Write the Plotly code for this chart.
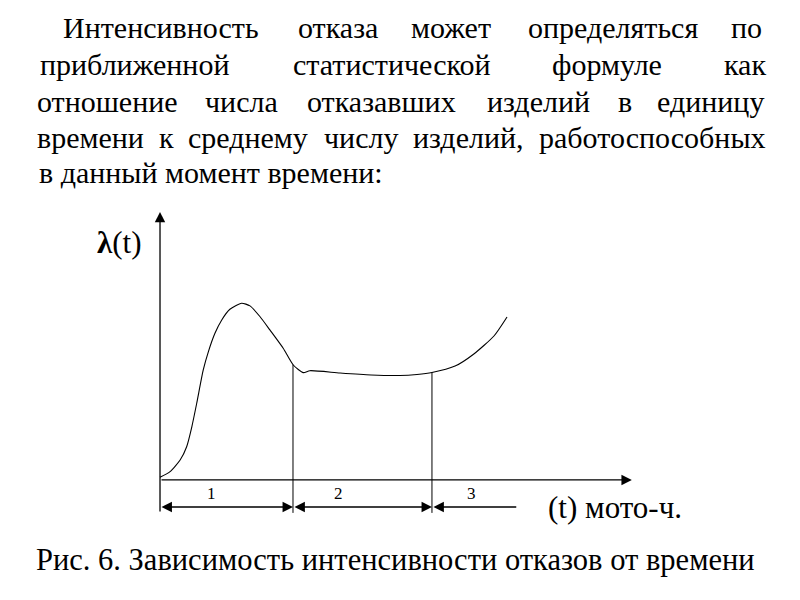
import numpy as np
import plotly.graph_objects as go

# кривая интенсивности отказов
t = [0, 3.7, 7.4, 9.8, 11.7, 13.5, 15.9, 17.8, 20.2, 22.7, 25.7, 30.0, 33.1, 36.8,
     40.4, 45.3, 49.0, 52.7, 55.1, 66.2, 77.6, 88.2, 94.5, 100.0, 108.5, 115.4,
     122.8, 127.6]
lam = [1.5, 4.7, 11.2, 18.7, 29.9, 43.1, 61.8, 72.1, 82.4, 89.9, 95.9, 99.3, 97.8,
       91.7, 84.3, 74.0, 64.6, 60.3, 61.4, 60.1, 59.0, 58.7, 59.3, 60.4, 64.0, 70.8,
       80.9, 91.6]

# границы периодов 1, 2, 3
bounds = [0, 48.9, 100.0, 131.0]
period_labels = ['1', '2', '3']
period_label_t = [19.1, 65.8, 114.7]
t_axis_end = 173.5
lam_axis_end = 150.6
dim_y = -15.2      # уровень размерной линии
tick_y = -18.5     # нижний конец засечек

text_lines = [
    ['Интенсивность', 'отказа', 'может', 'определяться', 'по'],
    ['приближенной', 'статистической', 'формуле', 'как'],
    ['отношение', 'числа', 'отказавших', 'изделий', 'в', 'единицу'],
    ['времени', 'к', 'среднему', 'числу', 'изделий,', 'работоспособных'],
]
# центры слов по горизонтали, px (выключка по ширине)
word_cx = [
    [160.5, 338, 451, 613, 746.5],
    [134, 392, 606.5, 745],
    [107, 241, 381, 538, 624.5, 710.5],
    [90.5, 166, 248, 360.5, 468, 652],
]
last_line = 'в данный момент времени:'
line_cy = [28, 64, 101, 137, 173]
caption = 'Рис. 6. Зависимость интенсивности отказов от времени'

W, H = 800, 600
ML, MR, MT, MB = 150, 160, 205, 75
SERIF = 'Liberation Serif'


def px(x):
    return (x - ML) / (W - ML - MR)


def py(y):
    return (H - MB - y) / (H - MT - MB)


def label(x, y, text, size, xanchor='center'):
    return dict(x=px(x), y=py(y), xref='paper', yref='paper', text=text, showarrow=False,
                xanchor=xanchor, yanchor='middle', font=dict(family=SERIF, size=size, color='black'))


fig = go.Figure()
fig.add_trace(go.Scatter(x=t, y=lam, mode='lines', line=dict(color='black', width=1.1, shape='spline', smoothing=0.6),
                         hoverinfo='skip'))

ann = []
# оси со стрелками
ann.append(dict(x=0, y=lam_axis_end, ax=0, ay=tick_y, xref='x', yref='y', axref='x', ayref='y',
                text='', showarrow=True, arrowhead=2, arrowsize=1.6, arrowwidth=1.3, arrowcolor='black'))
ann.append(dict(x=t_axis_end, y=0, ax=0, ay=0, xref='x', yref='y', axref='x', ayref='y',
                text='', showarrow=True, arrowhead=2, arrowsize=1.6, arrowwidth=1.3, arrowcolor='black'))

# размерные линии периодов
for i in range(3):
    ann.append(dict(x=bounds[i + 1], y=dim_y, ax=bounds[i], ay=dim_y, xref='x', yref='y', axref='x', ayref='y',
                    text='', showarrow=True, arrowhead=2, startarrowhead=2, arrowsize=1.6, startarrowsize=1.6,
                    arrowwidth=1.3, arrowcolor='black', arrowside='end+start' if i < 2 else 'start'))
    ann.append(dict(x=period_label_t[i], y=dim_y + 7.5, xref='x', yref='y',
                    text=period_labels[i], showarrow=False, xanchor='center', yanchor='middle',
                    font=dict(family=SERIF, size=17, color='black')))

shapes = []
for b in bounds[1:3]:
    top = float(np.interp(b, t, lam))
    shapes.append(dict(type='line', x0=b, x1=b, y0=tick_y, y1=top, xref='x', yref='y',
                       line=dict(color='black', width=1)))

# подписи осей
ann.append(label(119, 242, '<b>λ</b>(t)', 31))
ann.append(label(615, 507, '(t) мото-ч.', 31))

# текст абзаца
for words, xs, cy in zip(text_lines, word_cx, line_cy):
    for w, cx in zip(words, xs):
        ann.append(label(cx, cy, w, 30))
ann.append(label(37, line_cy[4], last_line, 30, xanchor='left'))
ann.append(label(395, 560, caption, 30.5))

fig.update_layout(
    width=W, height=H,
    margin=dict(l=ML, r=MR, t=MT, b=MB),
    paper_bgcolor='white', plot_bgcolor='white',
    showlegend=False,
    xaxis=dict(range=[-3.68, 176.5], visible=False),
    yaxis=dict(range=[-25.3, 154.5], visible=False),
    annotations=ann, shapes=shapes,
)
# убрать стандартный отступ body, чтобы рисунок стоял в углу окна
fig.write_html('out.html', config={'displayModeBar': False},
               post_script="document.body.style.margin='0';")
